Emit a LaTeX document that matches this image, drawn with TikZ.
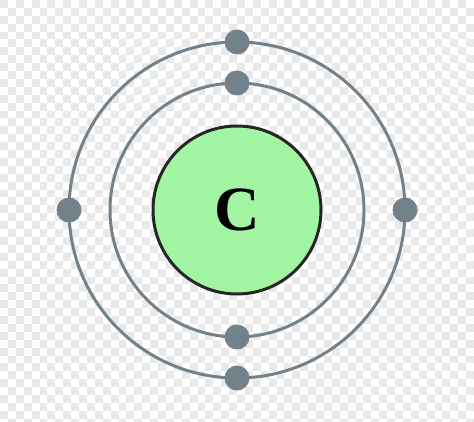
\documentclass[tikz,border=0pt]{standalone}
\usepackage{fontspec}
\usepackage{tikz}
\usepackage{xcolor}
\usetikzlibrary{positioning}

\newfontfamily\symbolfont{Liberation Serif}
\definecolor{orbitgray}{HTML}{72818A}
\definecolor{nucgreen}{HTML}{A2F5A2}
\definecolor{checkgray}{HTML}{E9E9E9}

\begin{document}
\begin{tikzpicture}[
        x=1pt, y=1pt,
        check/.style={fill=checkgray},
        nucleusnode/.style={circle, draw=black!85, line width=3pt, fill=nucgreen,
                      minimum size=168pt, inner sep=0pt,
                      font=\symbolfont\fontsize{63}{63}\selectfont\bfseries},
        orbit/.style={draw=orbitgray, line width=3pt},
        electron/.style={circle, fill=orbitgray, minimum size=25pt, inner sep=0pt}
    ]
    \useasboundingbox (0,0) rectangle (474,421);
    % checkered background
    \fill[white] (0,0) rectangle (474,421);
    \foreach \i in {0,...,59}
        \foreach \j in {0,...,53} {
            \pgfmathparse{int(mod(\i+\j,2))}
            \ifnum\pgfmathresult=0
                \fill[check] (\i*7.9,421-\j*7.9) rectangle +(7.9,-7.9);
            \fi
        }

    \node [nucleusnode] (nucleus) at (237,211) {C};

    % shells
    \draw [orbit] (nucleus.center) circle [radius=127];
    \draw [orbit] (nucleus.center) circle [radius=168];

    % inner shell electrons
    \node [electron] (e1) at ([yshift=127pt]nucleus.center) {};
    \node [electron] (e2) at ([yshift=-127pt]nucleus.center) {};
    % outer shell electrons
    \node [electron] (e3) at ([yshift=168pt]nucleus.center) {};
    \node [electron] (e4) at ([yshift=-168pt]nucleus.center) {};
    \node [electron] (e5) at ([xshift=-168pt]nucleus.center) {};
    \node [electron] (e6) at ([xshift=168pt]nucleus.center) {};
\end{tikzpicture}
\end{document}
